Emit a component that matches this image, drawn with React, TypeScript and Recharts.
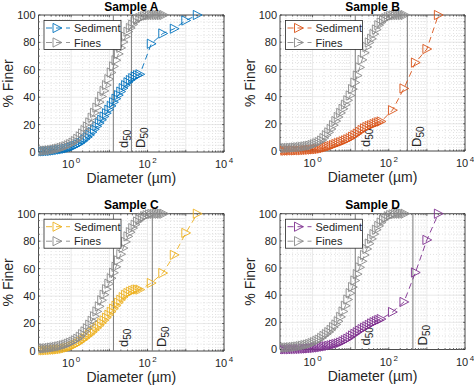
import {
  CartesianGrid,
  ComposedChart,
  Line,
  ReferenceArea,
  ReferenceLine,
  XAxis,
  YAxis
} from "recharts";

// laser diffraction bin sizes (µm), 16 per decade, and sieve sizes (µm)
const laserSizes = [
  0.149, 0.173, 0.199, 0.23, 0.266, 0.307, 0.354, 0.409, 0.472, 0.546,
  0.63, 0.727, 0.84, 0.97, 1.12, 1.29, 1.49, 1.73, 1.99, 2.3,
  2.66, 3.07, 3.54, 4.09, 4.72, 5.46, 6.3, 7.27, 8.4, 9.7,
  11.2, 12.9, 14.9, 17.3, 19.9, 23.0, 26.6, 30.7, 35.4, 40.9,
  47.2, 54.6, 63, 72.7, 84.0, 97.0, 112, 129, 149, 173,
  199, 230, 266
];
const sieveSizes = [125, 250, 500, 1000, 2000];

const sampleNames = ["Sample A", "Sample B", "Sample C", "Sample D"];

// % finer of the fines fraction, one value per laser bin
const finesA = [
  0.65, 0.75, 0.9, 1.05, 1.25, 1.45, 1.8, 2.15, 2.55, 3.05,
  3.6, 4.2, 4.9, 5.7, 6.8, 8.0, 9.6, 11.4, 13.5, 16.0,
  18.6, 21.6, 25, 28.6, 32.4, 36.4, 40.5, 44.6, 48.8, 53.2,
  58, 62.5, 67, 71.6, 76, 80.3, 84.2, 87.8, 90.5, 93.0,
  95.1, 96.8, 97.8, 98.6, 99.2, 99.6, 99.9, 100, 100, 100,
  100, 100, 100
];
const finesB = [
  2.0, 2.1, 2.2, 2.3, 2.35, 2.45, 2.6, 2.75, 2.9, 3.05,
  3.3, 3.6, 3.9, 4.4, 5.0, 5.7, 6.5, 7.7, 9.5, 11.6,
  13.7, 16.2, 19, 22, 25, 28, 31, 34, 37.3, 40.8,
  45.5, 50.3, 55.5, 61.5, 67, 72.2, 76.5, 79.8, 82.5, 86,
  89.3, 92.5, 94.5, 96.3, 97.6, 98.6, 99.3, 99.7, 99.9, 100,
  100, 100, 100
];
const finesC = [
  1.6, 1.75, 1.9, 2.05, 2.25, 2.5, 2.7, 3.0, 3.3, 3.7,
  4.2, 4.7, 5.3, 6.0, 6.8, 7.8, 8.9, 10.4, 12.3, 14.3,
  16.5, 19.2, 22, 25.3, 28.8, 32.5, 37, 41, 45, 49,
  53, 57, 61.3, 66, 70.5, 75, 79.5, 83.5, 86.5, 89.5,
  92, 94.3, 95.8, 97.1, 98.2, 98.9, 99.5, 99.8, 99.9, 100,
  100, 100, 100
];
const finesD = [
  1.25, 1.3, 1.4, 1.5, 1.65, 1.8, 2.0, 2.2, 2.5, 2.8,
  3.2, 3.6, 4.1, 4.7, 5.4, 6.3, 7.3, 8.5, 10, 11.3,
  12.8, 14.5, 16.5, 18.4, 20.8, 24, 28, 32.2, 36.8, 41.5,
  46, 50.8, 55.5, 60.5, 65, 69.6, 74, 78, 81.5, 85,
  88.2, 91, 93.5, 95.5, 97, 98.1, 99, 99.5, 99.8, 100,
  100, 100, 100
];

// % finer of the whole sediment: laser bins up to 63 µm, then sieves
const sedLaserA = [
  0.4, 0.4, 0.5, 0.6, 0.7, 0.8, 1.0, 1.3, 1.5, 1.8,
  2.1, 2.4, 2.8, 3.3, 3.9, 4.6, 5.6, 6.6, 7.8, 9.3,
  10.8, 12.5, 14.5, 16.6, 18.8, 21.1, 23.5, 25.9, 28.3, 30.9,
  33.6, 36.3, 38.9, 41.5, 44.1, 46.6, 48.8, 50.9, 52.5, 53.9,
  55.2, 56.1, 56.7
];
const sedSieveA = [79, 86.5, 90, 96, 100];
const sedLaserB = [
  0.2, 0.2, 0.2, 0.3, 0.3, 0.4, 0.4, 0.5, 0.5, 0.6,
  0.7, 0.8, 0.9, 1.0, 1.2, 1.3, 1.5, 1.8, 2.2, 2.7,
  3.2, 3.7, 4.4, 5.1, 5.8, 6.4, 7.1, 7.8, 8.6, 9.4,
  10.5, 11.6, 12.8, 14.1, 15.4, 16.6, 17.6, 18.4, 19.0, 19.8,
  20.5, 21.2, 21.7
];
const sedSieveB = [30, 46, 65, 75, 100];
const sedLaserC = [
  0.3, 0.4, 0.5, 0.55, 0.65, 0.75, 0.9, 1.0, 1.2, 1.4,
  1.7, 2.1, 2.6, 3.1, 3.8, 4.6, 5.6, 6.8, 8.0, 9.3,
  10.7, 12.1, 13.6, 15.2, 16.9, 18.6, 20.4, 22.3, 24.3, 26.4,
  28.6, 30.8, 33.0, 35.2, 37.3, 39.2, 40.9, 42.2, 43.2, 44.0,
  44.6, 44.8, 44.7
];
const sedSieveC = [49.5, 56.8, 70, 86, 100];
const sedLaserD = [
  0.1, 0.1, 0.15, 0.2, 0.2, 0.25, 0.3, 0.35, 0.4, 0.5,
  0.6, 0.7, 0.8, 0.95, 1.1, 1.3, 1.5, 1.8, 2.1, 2.4,
  2.7, 3.1, 3.6, 4.0, 4.5, 5.1, 6.0, 6.9, 7.9, 9.0,
  10.3, 11.5, 12.7, 13.9, 15.0, 16.0, 17.0, 18.1, 19.2, 20.1,
  20.9, 21.7, 22.4
];
const sedSieveD = [27.6, 35, 56.7, 80.7, 100];

const d50Values = [12.7, 13.2, 12.8, 13.2];
const D50Values = [37.8, 307, 133, 430];

const X_MIN = 0.14;
const X_MAX = 10000;
const xTicks = [1, 10, 100, 1000, 10000];
const yTicks = [0, 20, 40, 60, 80, 100];
const minorX = [0.1, 1, 10, 100, 1000].flatMap((d) =>
  [2, 3, 4, 5, 6, 7, 8, 9].map((m) => +(d * m).toPrecision(3))
);
const minorY = [5, 10, 15, 25, 30, 35, 45, 50, 55, 65, 70, 75, 85, 90, 95];

const sedColors = ["#0072BD", "#D95319", "#EDB120", "#7E2F8E"];
const FINES = "#8a8a8a";
const INK = "#262626";
const FONT = '"Liberation Sans", Arial, Helvetica, sans-serif';

const finesAll = [finesA, finesB, finesC, finesD];
const sedLaserAll = [sedLaserA, sedLaserB, sedLaserC, sedLaserD];
const sedSieveAll = [sedSieveA, sedSieveB, sedSieveC, sedSieveD];

// panel placement on the page and plot box inside each panel
const frames = [
  { left: 0, top: 0, l: 38.5, r: 224, t: 15, b: 152 },
  { left: 237, top: 0, l: 43, r: 228, t: 15, b: 151 },
  { left: 0, top: 193, l: 38.5, r: 224, t: 20.7, b: 158 },
  { left: 237, top: 193, l: 43, r: 228, t: 20.7, b: 156.5 }
];

const W = 237;
const H = 193;

function triangle(color: string) {
  return (p: any) => {
    const { cx, cy, index } = p;
    if (cx == null || cy == null) return <g key={index} />;
    return (
      <path
        key={index}
        d={`M${cx - 4},${cy - 4.6}L${cx + 4.8},${cy}L${cx - 4},${cy + 4.6}Z`}
        fill="none"
        stroke={color}
        strokeWidth={0.9}
      />
    );
  };
}

function DecadeTick(props: any) {
  const { x, y, payload } = props;
  const e = Math.round(Math.log10(payload.value));
  if (e % 2 !== 0) return <g />;
  return (
    <text x={x} y={y + 16} textAnchor="middle" fontSize={11} fill={INK} fontFamily={FONT}>
      10
      <tspan dx={1.5} dy={-5} fontSize={8}>
        {e}
      </tspan>
    </text>
  );
}

function fiftyLabel(letter: string, dx: number) {
  return (props: any) => {
    const vb = props.viewBox || {};
    const x = vb.x + dx;
    const y = vb.y + vb.height - 4;
    return (
      <text transform={`translate(${x},${y}) rotate(-90)`} fontSize={13} fill={INK} fontFamily={FONT}>
        {letter}
        <tspan fontSize={10} dy={3}>
          50
        </tspan>
      </text>
    );
  };
}

// small inward tick marks on all four sides of the box
function boxTicks() {
  const out: any[] = [];
  [...xTicks, ...minorX].forEach((v) => {
    const len = xTicks.includes(v) ? 1.6 : 1.1;
    out.push(
      <ReferenceLine key={"tb" + v} segment={[{ x: v, y: 0 }, { x: v, y: len }]} stroke={INK} strokeWidth={0.7} />,
      <ReferenceLine key={"tt" + v} segment={[{ x: v, y: 100 - len }, { x: v, y: 100 }]} stroke={INK} strokeWidth={0.7} />
    );
  });
  [...yTicks, ...minorY].forEach((v) => {
    const f = yTicks.includes(v) ? 1.12 : 1.08;
    out.push(
      <ReferenceLine key={"tl" + v} segment={[{ x: X_MIN, y: v }, { x: X_MIN * f, y: v }]} stroke={INK} strokeWidth={0.7} />,
      <ReferenceLine key={"tr" + v} segment={[{ x: X_MAX / f, y: v }, { x: X_MAX, y: v }]} stroke={INK} strokeWidth={0.7} />
    );
  });
  return out;
}

function Panel({ idx }: { idx: number }) {
  const { left, top, l, r, t, b } = frames[idx];
  const color = sedColors[idx];
  const fines = laserSizes.map((x, i) => ({ x, y: finesAll[idx][i] }));
  const sediment = [
    ...sedLaserAll[idx].map((y, i) => ({ x: laserSizes[i], y })),
    ...sedSieveAll[idx].map((y, i) => ({ x: sieveSizes[i], y }))
  ];
  const cx = (l + r) / 2;
  const cy = (t + b) / 2;

  return (
    <div style={{ position: "absolute", left, top, width: W, height: H }}>
      <ComposedChart
        width={W}
        height={H}
        margin={{ top: t, right: W - r, bottom: H - b - 30, left: l - 30 }}
      >
        <CartesianGrid stroke="#e4e4e4" strokeWidth={0.8} />
        <XAxis
          type="number"
          dataKey="x"
          scale="log"
          domain={[X_MIN, X_MAX]}
          allowDataOverflow
          ticks={xTicks}
          interval={0}
          tick={<DecadeTick />}
          tickLine={false}
          axisLine={false}
          tickSize={0}
          tickMargin={0}
          height={30}
        />
        <YAxis
          type="number"
          domain={[0, 100]}
          ticks={yTicks}
          interval={0}
          tickLine={false}
          axisLine={false}
          tickSize={0}
          tickMargin={3}
          width={30}
          tick={{ fontSize: 11, fill: INK, fontFamily: FONT }}
        />
        {minorX.map((v) => (
          <ReferenceLine key={"mx" + v} x={v} stroke="#d6d6d6" strokeWidth={0.7} strokeDasharray="1 2" />
        ))}
        {minorY.map((v) => (
          <ReferenceLine key={"my" + v} y={v} stroke="#d6d6d6" strokeWidth={0.7} strokeDasharray="1 2" />
        ))}
        <ReferenceLine x={d50Values[idx]} stroke="#7a7a7a" strokeWidth={1} label={fiftyLabel("d", 15)} />
        <ReferenceLine x={D50Values[idx]} stroke="#7a7a7a" strokeWidth={1} label={fiftyLabel("D", 14)} />
        <Line
          data={sediment}
          dataKey="y"
          type="linear"
          stroke={color}
          strokeWidth={0.9}
          strokeDasharray="6 4"
          dot={triangle(color)}
          activeDot={false}
          isAnimationActive={false}
        />
        <Line
          data={fines}
          dataKey="y"
          type="linear"
          stroke={FINES}
          strokeWidth={0.9}
          strokeDasharray="6 4"
          dot={triangle(FINES)}
          activeDot={false}
          isAnimationActive={false}
        />
        {boxTicks()}
        <ReferenceArea
          x1={X_MIN}
          x2={X_MAX}
          y1={0}
          y2={100}
          fill="none"
          fillOpacity={0}
          stroke={INK}
          strokeWidth={0.8}
        />
      </ComposedChart>
      <svg
        width={W}
        height={H}
        style={{ position: "absolute", left: 0, top: 0, pointerEvents: "none" }}
        fontFamily={FONT}
      >
        <text x={cx} y={t - 4.5} textAnchor="middle" fontSize={12} fontWeight="bold" fill="#000">
          {sampleNames[idx]}
        </text>
        <text x={cx} y={b + 31} textAnchor="middle" fontSize={14} fill={INK}>
          Diameter (µm)
        </text>
        <text transform={`translate(${l - 25.5},${cy}) rotate(-90)`} textAnchor="middle" fontSize={14} fill={INK}>
          % Finer
        </text>
        <rect x={l + 5.5} y={t + 5.5} width={77} height={29} fill="#fff" stroke={INK} strokeWidth={0.8} />
        {[
          { name: "Sediment", c: color, dy: 13 },
          { name: "Fines", c: FINES, dy: 27.5 }
        ].map((e) => (
          <g key={e.name}>
            <line x1={l + 7.5} x2={l + 31.5} y1={t + e.dy} y2={t + e.dy} stroke={e.c} strokeWidth={0.9} strokeDasharray="6 4" />
            {triangle(e.c)({ cx: l + 18.5, cy: t + e.dy, index: e.name })}
            <text x={l + 35.5} y={t + e.dy + 4} fontSize={11} fill={INK}>
              {e.name}
            </text>
          </g>
        ))}
      </svg>
    </div>
  );
}

export default function App() {
  return (
    <div style={{ position: "absolute", left: 0, top: 0, width: 474, height: 386, background: "#fff", overflow: "hidden" }}>
      {[0, 1, 2, 3].map((i) => (
        <Panel key={i} idx={i} />
      ))}
    </div>
  );
}
